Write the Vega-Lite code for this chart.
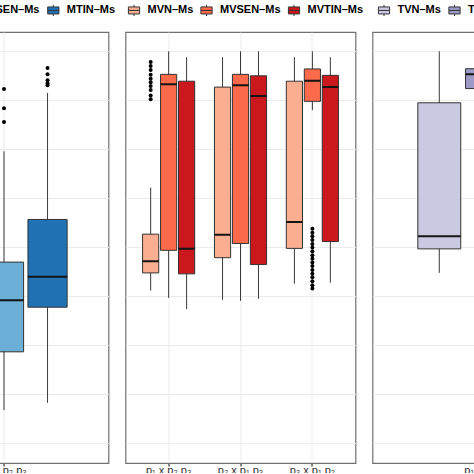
{
  "$schema": "https://vega.github.io/schema/vega-lite/v6.json",
  "usermeta": {"embedOptions": {"actions": false}},
  "autosize": {"type": "pad"},
  "padding": {"left": -101.5, "top": 1, "right": -131, "bottom": -3},
  "background": "white",
  "bounds": "flush",
  "datasets": {
    "boxes": [
      {"panel": "M", "cross": "p₁ x p₂ p₃", "method": "MN–Ms", "lower": 0.21, "q1": 0.33, "median": 0.39, "q3": 0.47, "upper": 0.64},
      {"panel": "M", "cross": "p₁ x p₂ p₃", "method": "MSEN–Ms", "lower": 0.168, "q1": 0.287, "median": 0.392, "q3": 0.47, "upper": 0.696},
      {"panel": "M", "cross": "p₁ x p₂ p₃", "method": "MTIN–Ms", "lower": 0.183, "q1": 0.378, "median": 0.44, "q3": 0.557, "upper": 0.815},
      {"panel": "MV", "cross": "p₁ x p₂ p₃", "method": "MVN–Ms", "lower": 0.412, "q1": 0.448, "median": 0.472, "q3": 0.527, "upper": 0.622},
      {"panel": "MV", "cross": "p₁ x p₂ p₃", "method": "MVSEN–Ms", "lower": 0.397, "q1": 0.494, "median": 0.833, "q3": 0.853, "upper": 0.9},
      {"panel": "MV", "cross": "p₁ x p₂ p₃", "method": "MVTIN–Ms", "lower": 0.374, "q1": 0.446, "median": 0.497, "q3": 0.839, "upper": 0.888},
      {"panel": "MV", "cross": "p₂ x p₁ p₃", "method": "MVN–Ms", "lower": 0.393, "q1": 0.479, "median": 0.526, "q3": 0.827, "upper": 0.888},
      {"panel": "MV", "cross": "p₂ x p₁ p₃", "method": "MVSEN–Ms", "lower": 0.391, "q1": 0.508, "median": 0.831, "q3": 0.853, "upper": 0.9},
      {"panel": "MV", "cross": "p₂ x p₁ p₃", "method": "MVTIN–Ms", "lower": 0.395, "q1": 0.465, "median": 0.809, "q3": 0.85, "upper": 0.9},
      {"panel": "MV", "cross": "p₃ x p₁ p₂", "method": "MVN–Ms", "lower": 0.426, "q1": 0.498, "median": 0.552, "q3": 0.839, "upper": 0.888},
      {"panel": "MV", "cross": "p₃ x p₁ p₂", "method": "MVSEN–Ms", "lower": 0.78, "q1": 0.798, "median": 0.84, "q3": 0.864, "upper": 0.9},
      {"panel": "MV", "cross": "p₃ x p₁ p₂", "method": "MVTIN–Ms", "lower": 0.428, "q1": 0.512, "median": 0.827, "q3": 0.851, "upper": 0.888},
      {"panel": "TV", "cross": "p₁ x p₂ p₃", "method": "TVN–Ms", "lower": 0.448, "q1": 0.497, "median": 0.523, "q3": 0.795, "upper": 0.9},
      {"panel": "TV", "cross": "p₁ x p₂ p₃", "method": "TVSEN–Ms", "lower": 0.79, "q1": 0.824, "median": 0.853, "q3": 0.8645, "upper": 0.895},
      {"panel": "TV", "cross": "p₁ x p₂ p₃", "method": "TVTIN–Ms", "lower": 0.46, "q1": 0.53, "median": 0.81, "q3": 0.855, "upper": 0.9}
    ],
    "outliers": [
      {"panel": "M", "cross": "p₁ x p₂ p₃", "method": "MSEN–Ms", "value": 0.823},
      {"panel": "M", "cross": "p₁ x p₂ p₃", "method": "MSEN–Ms", "value": 0.784},
      {"panel": "M", "cross": "p₁ x p₂ p₃", "method": "MSEN–Ms", "value": 0.756},
      {"panel": "M", "cross": "p₁ x p₂ p₃", "method": "MTIN–Ms", "value": 0.866},
      {"panel": "M", "cross": "p₁ x p₂ p₃", "method": "MTIN–Ms", "value": 0.853},
      {"panel": "M", "cross": "p₁ x p₂ p₃", "method": "MTIN–Ms", "value": 0.841},
      {"panel": "M", "cross": "p₁ x p₂ p₃", "method": "MTIN–Ms", "value": 0.835},
      {"panel": "M", "cross": "p₁ x p₂ p₃", "method": "MTIN–Ms", "value": 0.831},
      {"panel": "MV", "cross": "p₁ x p₂ p₃", "method": "MVN–Ms", "value": 0.878},
      {"panel": "MV", "cross": "p₁ x p₂ p₃", "method": "MVN–Ms", "value": 0.87},
      {"panel": "MV", "cross": "p₁ x p₂ p₃", "method": "MVN–Ms", "value": 0.862},
      {"panel": "MV", "cross": "p₁ x p₂ p₃", "method": "MVN–Ms", "value": 0.852},
      {"panel": "MV", "cross": "p₁ x p₂ p₃", "method": "MVN–Ms", "value": 0.844},
      {"panel": "MV", "cross": "p₁ x p₂ p₃", "method": "MVN–Ms", "value": 0.837},
      {"panel": "MV", "cross": "p₁ x p₂ p₃", "method": "MVN–Ms", "value": 0.829},
      {"panel": "MV", "cross": "p₁ x p₂ p₃", "method": "MVN–Ms", "value": 0.821},
      {"panel": "MV", "cross": "p₁ x p₂ p₃", "method": "MVN–Ms", "value": 0.81},
      {"panel": "MV", "cross": "p₁ x p₂ p₃", "method": "MVN–Ms", "value": 0.802},
      {"panel": "MV", "cross": "p₃ x p₁ p₂", "method": "MVSEN–Ms", "value": 0.538},
      {"panel": "MV", "cross": "p₃ x p₁ p₂", "method": "MVSEN–Ms", "value": 0.53},
      {"panel": "MV", "cross": "p₃ x p₁ p₂", "method": "MVSEN–Ms", "value": 0.523},
      {"panel": "MV", "cross": "p₃ x p₁ p₂", "method": "MVSEN–Ms", "value": 0.515},
      {"panel": "MV", "cross": "p₃ x p₁ p₂", "method": "MVSEN–Ms", "value": 0.507},
      {"panel": "MV", "cross": "p₃ x p₁ p₂", "method": "MVSEN–Ms", "value": 0.5},
      {"panel": "MV", "cross": "p₃ x p₁ p₂", "method": "MVSEN–Ms", "value": 0.492},
      {"panel": "MV", "cross": "p₃ x p₁ p₂", "method": "MVSEN–Ms", "value": 0.484},
      {"panel": "MV", "cross": "p₃ x p₁ p₂", "method": "MVSEN–Ms", "value": 0.477},
      {"panel": "MV", "cross": "p₃ x p₁ p₂", "method": "MVSEN–Ms", "value": 0.469},
      {"panel": "MV", "cross": "p₃ x p₁ p₂", "method": "MVSEN–Ms", "value": 0.462},
      {"panel": "MV", "cross": "p₃ x p₁ p₂", "method": "MVSEN–Ms", "value": 0.454},
      {"panel": "MV", "cross": "p₃ x p₁ p₂", "method": "MVSEN–Ms", "value": 0.446},
      {"panel": "MV", "cross": "p₃ x p₁ p₂", "method": "MVSEN–Ms", "value": 0.439},
      {"panel": "MV", "cross": "p₃ x p₁ p₂", "method": "MVSEN–Ms", "value": 0.431},
      {"panel": "MV", "cross": "p₃ x p₁ p₂", "method": "MVSEN–Ms", "value": 0.423},
      {"panel": "MV", "cross": "p₃ x p₁ p₂", "method": "MVSEN–Ms", "value": 0.416}
    ]
  },
  "spacing": 17,
  "resolve": {
    "scale": {"x": "independent", "xOffset": "independent", "color": "independent"},
    "legend": {"color": "independent"}
  },
  "hconcat": [
    {
      "width": 209,
      "height": 431,
      "encoding": {
        "x": {"field": "cross", "type": "nominal", "sort": ["p₁ x p₂ p₃"], "scale": {"paddingInner": 0.25, "paddingOuter": 0.225}},
        "xOffset": {"field": "method", "type": "nominal", "sort": ["MN–Ms", "MSEN–Ms", "MTIN–Ms"], "scale": {"paddingInner": 0.1, "paddingOuter": 0.05}}
      },
      "layer": [
        {
          "data": {"name": "boxes"},
          "transform": [{"filter": "datum.panel === 'M'"}],
          "mark": {"type": "rule", "color": "#3a3a3a", "strokeWidth": 1},
          "encoding": {
            "y": {"field": "lower", "type": "quantitative", "scale": {"domain": [0.0602, 0.9394], "nice": false, "zero": false}},
            "y2": {"field": "upper"}
          }
        },
        {
          "data": {"name": "boxes"},
          "transform": [{"filter": "datum.panel === 'M'"}],
          "mark": {"type": "bar", "stroke": "#333333", "strokeWidth": 1},
          "encoding": {
            "y": {"field": "q1", "type": "quantitative"},
            "y2": {"field": "q3"},
            "color": {
              "field": "method", "type": "nominal",
              "scale": {"domain": ["MN–Ms", "MSEN–Ms", "MTIN–Ms"], "range": ["#bdd7e7", "#6baed6", "#2171b5"]},
              "legend": {"legendX": 0.3, "legendY": -29.5}
            }
          }
        },
        {
          "data": {"name": "boxes"},
          "transform": [{"filter": "datum.panel === 'M'"}],
          "mark": {"type": "bar", "fillOpacity": 0, "stroke": "#141414", "strokeWidth": 2},
          "encoding": {"y": {"field": "median", "type": "quantitative"}, "y2": {"field": "median"}}
        },
        {
          "data": {"name": "outliers"},
          "transform": [{"filter": "datum.panel === 'M'"}],
          "mark": {"type": "point", "filled": true, "color": "#000000", "opacity": 1, "size": 16},
          "encoding": {"y": {"field": "value", "type": "quantitative"}}
        }
      ]
    },
    {
      "width": 230,
      "height": 431,
      "encoding": {
        "x": {"field": "cross", "type": "nominal", "sort": ["p₁ x p₂ p₃", "p₂ x p₁ p₃", "p₃ x p₁ p₂"], "scale": {"paddingInner": 0.25, "paddingOuter": 0.225}},
        "xOffset": {"field": "method", "type": "nominal", "sort": ["MVN–Ms", "MVSEN–Ms", "MVTIN–Ms"], "scale": {"paddingInner": 0.1, "paddingOuter": 0.05}}
      },
      "layer": [
        {
          "data": {"name": "boxes"},
          "transform": [{"filter": "datum.panel === 'MV'"}],
          "mark": {"type": "rule", "color": "#3a3a3a", "strokeWidth": 1},
          "encoding": {
            "y": {"field": "lower", "type": "quantitative", "scale": {"domain": [0.0602, 0.9394], "nice": false, "zero": false}},
            "y2": {"field": "upper"}
          }
        },
        {
          "data": {"name": "boxes"},
          "transform": [{"filter": "datum.panel === 'MV'"}],
          "mark": {"type": "bar", "stroke": "#333333", "strokeWidth": 1},
          "encoding": {
            "y": {"field": "q1", "type": "quantitative"},
            "y2": {"field": "q3"},
            "color": {
              "field": "method", "type": "nominal",
              "scale": {"domain": ["MVN–Ms", "MVSEN–Ms", "MVTIN–Ms"], "range": ["#fcae91", "#fb6a4a", "#cb181d"]},
              "legend": {"legendX": 1, "legendY": -29.5}
            }
          }
        },
        {
          "data": {"name": "boxes"},
          "transform": [{"filter": "datum.panel === 'MV'"}],
          "mark": {"type": "bar", "fillOpacity": 0, "stroke": "#141414", "strokeWidth": 2},
          "encoding": {"y": {"field": "median", "type": "quantitative"}, "y2": {"field": "median"}}
        },
        {
          "data": {"name": "outliers"},
          "transform": [{"filter": "datum.panel === 'MV'"}],
          "mark": {"type": "point", "filled": true, "color": "#000000", "opacity": 1, "size": 16},
          "encoding": {"y": {"field": "value", "type": "quantitative"}}
        }
      ]
    },
    {
      "width": 229,
      "height": 431,
      "encoding": {
        "x": {"field": "cross", "type": "nominal", "sort": ["p₁ x p₂ p₃"], "scale": {"paddingInner": 0.25, "paddingOuter": 0.225}},
        "xOffset": {"field": "method", "type": "nominal", "sort": ["TVN–Ms", "TVSEN–Ms", "TVTIN–Ms"], "scale": {"paddingInner": 0.1, "paddingOuter": 0.05}}
      },
      "layer": [
        {
          "data": {"name": "boxes"},
          "transform": [{"filter": "datum.panel === 'TV'"}],
          "mark": {"type": "rule", "color": "#3a3a3a", "strokeWidth": 1},
          "encoding": {
            "y": {"field": "lower", "type": "quantitative", "scale": {"domain": [0.0602, 0.9394], "nice": false, "zero": false}},
            "y2": {"field": "upper"}
          }
        },
        {
          "data": {"name": "boxes"},
          "transform": [{"filter": "datum.panel === 'TV'"}],
          "mark": {"type": "bar", "stroke": "#333333", "strokeWidth": 1},
          "encoding": {
            "y": {"field": "q1", "type": "quantitative"},
            "y2": {"field": "q3"},
            "color": {
              "field": "method", "type": "nominal",
              "scale": {"domain": ["TVN–Ms", "TVSEN–Ms", "TVTIN–Ms"], "range": ["#cbc9e2", "#9e9ac8", "#6a51a3"]},
              "legend": {"legendX": 4, "legendY": -29.5}
            }
          }
        },
        {
          "data": {"name": "boxes"},
          "transform": [{"filter": "datum.panel === 'TV'"}],
          "mark": {"type": "bar", "fillOpacity": 0, "stroke": "#141414", "strokeWidth": 2},
          "encoding": {"y": {"field": "median", "type": "quantitative"}, "y2": {"field": "median"}}
        }
      ]
    }
  ],
  "config": {
    "font": "Liberation Sans",
    "view": {"stroke": "#707070", "strokeWidth": 1.2},
    "axisX": {
      "title": null, "labelAngle": 0, "labelFontSize": 11, "labelColor": "#333333",
      "labelPadding": -2, "tickSize": 3, "tickColor": "#333333", "tickWidth": 1.2,
      "domain": false, "grid": true, "gridColor": "#ebebeb", "gridWidth": 1, "bandPosition": 0.5
    },
    "axisY": {
      "title": null, "labels": false, "ticks": false, "domain": false,
      "grid": true, "gridColor": "#ebebeb", "gridWidth": 1,
      "values": [0.1, 0.2, 0.3, 0.4, 0.5, 0.6, 0.7, 0.8, 0.9]
    },
    "legend": {
      "orient": "none", "direction": "horizontal", "columns": 3, "title": null, "padding": 0,
      "symbolType": "M-0.8,-0.5H0.8V0.5H-0.8Z M-0.8,0H0.8 M0,-0.5V-0.8 M0,0.5V0.8",
      "symbolSize": 196, "symbolStrokeColor": "#333333", "symbolStrokeWidth": 1, "symbolOpacity": 1,
      "labelFont": "Liberation Sans", "labelFontWeight": "bold", "labelFontSize": 11, "labelColor": "#000000",
      "labelOffset": 6, "columnPadding": 4.5, "labelLimit": 0
    }
  }
}
